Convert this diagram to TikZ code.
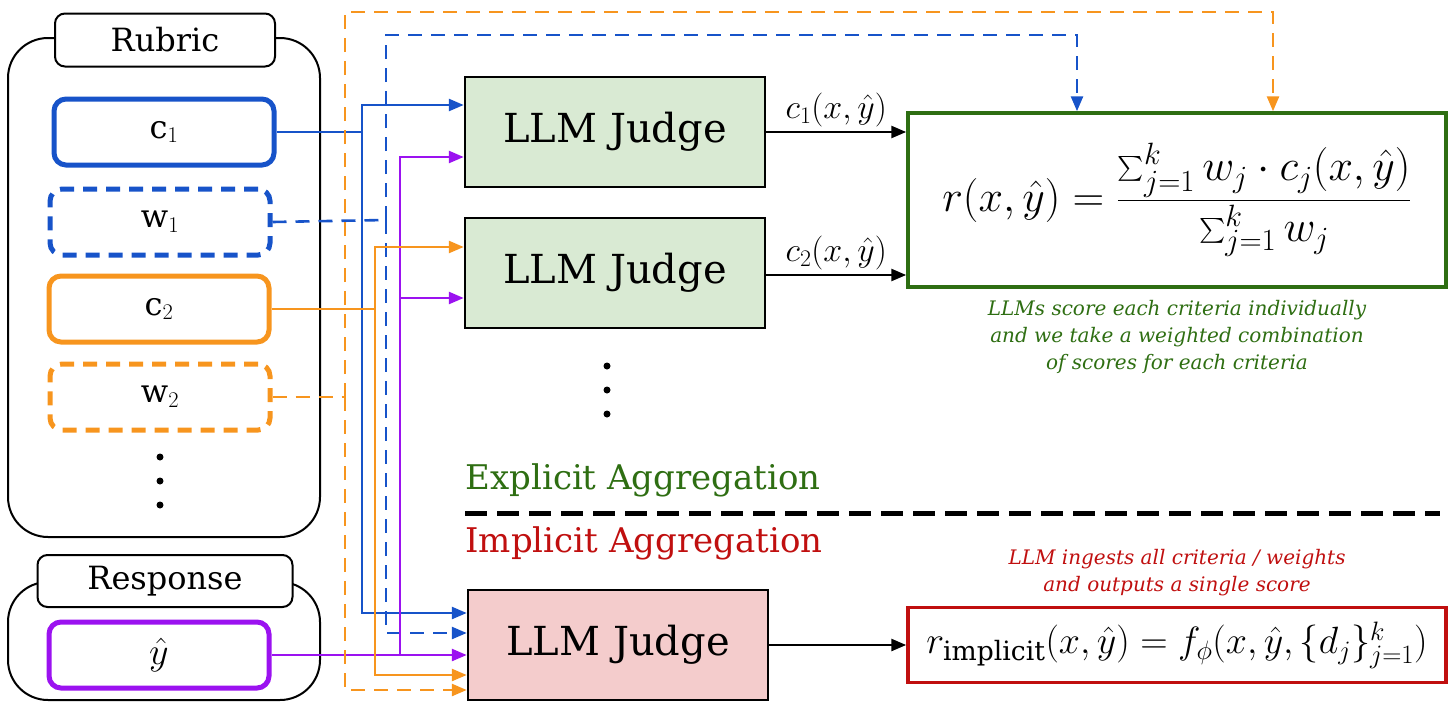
\RequirePackage{fix-cm}
\documentclass[tikz,border=0pt]{standalone}
\usepackage{amsmath}
\usepackage{fontspec}
\setmainfont{DejaVu Serif}
\usetikzlibrary{calc, arrows.meta, positioning}

\definecolor{cblue}{HTML}{1753C9}
\definecolor{corange}{HTML}{F7951E}
\definecolor{cpurple}{HTML}{9B12F0}
\definecolor{cgreen}{HTML}{2E6E12}
\definecolor{cred}{HTML}{C00F0F}
\definecolor{jgreen}{HTML}{D9EAD3}
\definecolor{jred}{HTML}{F4CCCC}

\tikzset{
    tag/.style = {draw, line width = 2pt, rounded corners = 10pt, fill = white, inner sep = 0pt, font = \fontsize{32}{36}\selectfont},
    item/.style = {draw, line width = 5pt, rounded corners = 12pt, minimum width = 220pt, minimum height = 66pt, inner sep = 0pt, font = \fontsize{32}{36}\selectfont},
    judge/.style = {draw, line width = 2.5pt, minimum width = 300pt, minimum height = 110pt, font = \fontsize{40}{44}\selectfont},
    result/.style = {draw, line width = 3.5pt, minimum width = 538pt, inner sep = 0pt},
    wire/.style = {line width = 2.6pt, -{Triangle[length = 15pt, width = 12pt]}},
    link/.style = {line width = 2.6pt},
    dashy/.style = {dash pattern = on 14pt off 9pt},
    note/.style = {align = center, font = \itshape\fontsize{20}{27}\selectfont},
    dot/.style = {circle, fill, inner sep = 0pt, minimum size = 7pt}
}

\begin{document}
\begin{tikzpicture}[x = 1pt, y = -1pt]
    \useasboundingbox (0, 0) rectangle (1456, 715);

    % rubric and response groups
    \draw[line width = 2pt, rounded corners = 40pt] (8, 38) rectangle (320, 537);
    \node[tag, minimum width = 220pt, minimum height = 53pt] (rubric) at (165, 40) {Rubric};
    \draw[line width = 2pt, rounded corners = 40pt] (8, 582) rectangle (320, 700);
    \node[tag, minimum width = 255pt, minimum height = 52pt] (response) at (165, 581) {Response};

    \node[item, draw = cblue] (c1) at (164, 132) {c$_{\scriptstyle 1}$};
    \node[item, draw = cblue, dashy] (w1) at (160, 222) {w$_{\scriptstyle 1}$};
    \node[item, draw = corange] (c2) at (159, 309) {c$_{\scriptstyle 2}$};
    \node[item, draw = corange, dashy] (w2) at (160, 397) {w$_{\scriptstyle 2}$};
    \foreach \y in {457, 481, 505}
        \node[dot] at (160, \y) {};
    \node[item, draw = cpurple, font = \fontsize{38}{40}\selectfont] (yhat) at (159, 655) {$\hat{y}$};

    % judges
    \node[judge, fill = jgreen] (judge1) at (615, 132) {LLM Judge};
    \node[judge, fill = jgreen] (judge2) at (615, 273) {LLM Judge};
    \foreach \y in {366, 390, 414}
        \node[dot] at (607, \y) {};
    \node[judge, fill = jred] (judge3) at (618, 645) {LLM Judge};

    % results
    \node[result, draw = cgreen, minimum height = 174pt] (explicit) at (1177, 200)
        {\fontsize{44}{50}\selectfont $\displaystyle r(x,\hat{y}) = \frac{\sum_{j=1}^{k} w_j \cdot c_j(x,\hat{y})}{\sum_{j=1}^{k} w_j}$};
    \node[note, text = cgreen, below = 8pt of explicit] (explicitnote)
        {LLMs score each criteria individually\\and we take a weighted combination\\of scores for each criteria};
    \node[result, draw = cred, minimum height = 75pt] (implicit) at (1177, 645)
        {\fontsize{38}{42}\selectfont $r_{\text{implicit}}(x,\hat{y}) = f_\phi(x,\hat{y},\{d_j\}_{j=1}^{k})$};
    \node[note, text = cred, above = 6pt of implicit] (implicitnote)
        {LLM ingests all criteria / weights\\and outputs a single score};

    % aggregation split
    \node[anchor = west, text = cgreen, font = \fontsize{34}{38}\selectfont] (exptext) at (462, 480) {Explicit Aggregation};
    \node[anchor = west, text = cred, font = \fontsize{34}{38}\selectfont] (imptext) at (462, 543) {Implicit Aggregation};
    \coordinate (splitL) at (465, 513);
    \coordinate (splitR) at (1440, 513);
    \draw[line width = 5pt, dash pattern = on 22pt off 10pt] (splitL) -- (splitR);

    % judge outputs
    \draw[wire] (judge1.east) -- node[above, font = \fontsize{34}{36}\selectfont] {$c_1(x,\hat{y})$} (judge1.east -| explicit.west);
    \draw[wire] ($(judge2.east) + (0, 2)$) -- node[above, font = \fontsize{34}{36}\selectfont] {$c_2(x,\hat{y})$} ($(judge2.east -| explicit.west) + (0, 2)$);
    \draw[wire] (judge3.east) -- (implicit.west);

    % blue c1
    \coordinate (bc) at (362, 132);
    \draw[link, cblue] (c1.east) -- (bc);
    \draw[wire, cblue] (bc) |- (judge1.west |- 0, 105);
    \draw[wire, cblue] (bc) |- (judge3.west |- 0, 613);

    % blue w1
    \coordinate (bw) at (386, 220);
    \coordinate (bwtop) at (1077, 35);
    \draw[link, cblue, dashy] (w1.east) -- (bw);
    \draw[wire, cblue, dashy] (bw) |- (bwtop) -- (bwtop |- explicit.north);
    \draw[wire, cblue, dashy] (bw) |- (judge3.west |- 0, 633);

    % purple response
    \coordinate (py) at (400, 655);
    \draw[wire, cpurple] (yhat.east) -- (judge3.west |- yhat.east);
    \draw[wire, cpurple] (py) |- (judge1.west |- 0, 157);
    \draw[wire, cpurple] (py |- 0, 298) -- (judge2.west |- 0, 298);

    % orange c2
    \coordinate (oc) at (375, 309);
    \draw[link, corange] (c2.east) -- (oc);
    \draw[wire, corange] (oc) |- (judge2.west |- 0, 247);
    \draw[wire, corange] (oc) |- (judge3.west |- 0, 675);

    % orange w2
    \coordinate (ow) at (345, 397);
    \coordinate (owtop) at (1273, 12);
    \draw[link, corange, dashy] (w2.east) -- (ow);
    \draw[wire, corange, dashy] (ow) |- (owtop) -- (owtop |- explicit.north);
    \draw[wire, corange, dashy] (ow) |- (judge3.west |- 0, 690);
\end{tikzpicture}
\end{document}
